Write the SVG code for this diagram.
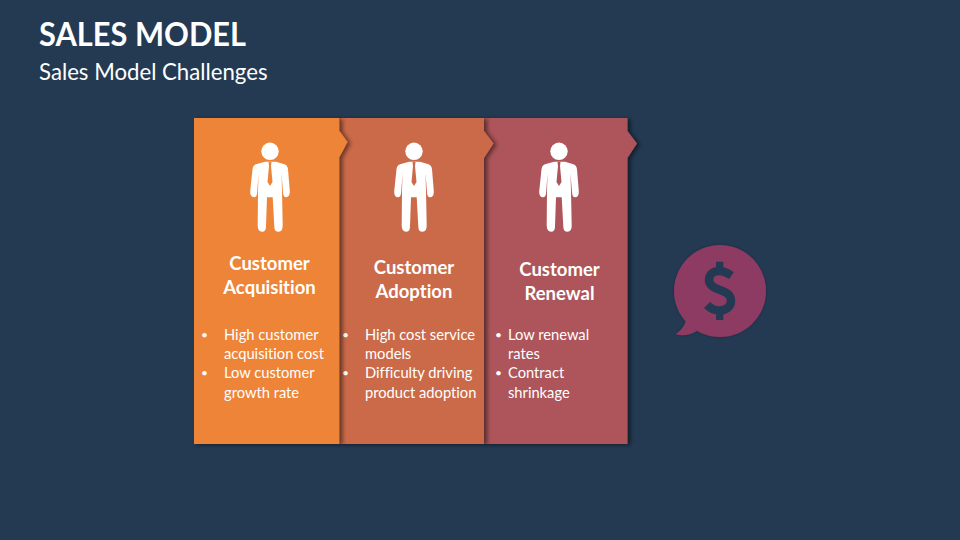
<svg xmlns="http://www.w3.org/2000/svg" width="960" height="540" viewBox="0 0 960 540">
<style>
text{font-family:"Lato","Carlito","Open Sans",sans-serif;fill:#fff;font-variant-ligatures:none}
.t{font-size:33px;font-weight:700}
.s{font-size:22.200px}
.h{font-size:18.500px;font-weight:700;text-anchor:middle}
.b{font-size:14.700px}
.d{font-size:12px}
</style>
<defs>
<filter id="sh" x="-20%" y="-10%" width="140%" height="120%"><feDropShadow dx="3" dy="1" stdDeviation="2" flood-color="#000" flood-opacity="0.5"/></filter>
<filter id="sh2" x="-20%" y="-20%" width="140%" height="140%"><feDropShadow dx="0" dy="0" stdDeviation="1.500" flood-color="#000" flood-opacity="0.3"/></filter>
<g id="person">
<circle cx="0" cy="0" r="8.700" fill="#fff"/>
<path fill="#fff" d="M-5 10.500L-14 13Q-17 14-17.500 18L-19.800 40Q-20 46-16 46Q-13 46-12.800 41L-11.500 22L-12 40L-12.300 74Q-12.300 80.500-8 80.500Q-4 80.500-4 75L-3 46H2.700L4.300 75Q4.300 80.500 8.500 80.500Q12.800 80.500 12.700 74L12 40L11.500 22L13 41Q13.200 46 16 46Q20 46 19.800 40L18 18Q17.500 14 14.500 13L6 10.500Z"/>
</g>
</defs>
<rect width="960" height="540" fill="#243a53"/>
<g id="title">
<text class="t" x="39" y="46" textLength="207" lengthAdjust="spacingAndGlyphs">SALES MODEL</text>
<text class="s" x="39" y="80">Sales Model Challenges</text>
</g>
<g id="panel-3">
<path filter="url(#sh)" fill="#ad545a" d="M484 118H627.500V131L637 143.500L627.500 158V444H484Z"/>
<use href="#person" x="559" y="151.300"/>
<path fill="#ad545a" d="M557.500 162H560.500L560 166L561.500 182L559 186L556.500 182L558 166Z"/>
<text class="h" x="559.500" y="275.500">Customer</text>
<text class="h" x="559.500" y="299.500">Renewal</text>
<text class="d" x="495" y="339">•</text><text class="b" x="508" y="340">Low renewal</text>
<text class="b" x="508" y="359">rates</text>
<text class="d" x="495" y="377">•</text><text class="b" x="508" y="378">Contract</text>
<text class="b" x="508" y="398">shrinkage</text>
</g>
<g id="panel-2">
<path filter="url(#sh)" fill="#cb6a48" d="M340 118H484V131L493.500 143.500L484 158V444H340Z"/>
<use href="#person" x="414" y="151.300"/>
<path fill="#cb6a48" d="M412.500 162H415.500L415 166L416.500 182L414 186L411.500 182L413 166Z"/>
<text class="h" x="414" y="273.500">Customer</text>
<text class="h" x="414" y="297.500">Adoption</text>
<text class="d" x="342" y="339">•</text><text class="b" x="365" y="340">High cost service</text>
<text class="b" x="365" y="359">models</text>
<text class="d" x="342" y="377">•</text><text class="b" x="365" y="378">Difficulty driving</text>
<text class="b" x="365" y="398">product adoption</text>
</g>
<g id="panel-1">
<path filter="url(#sh)" fill="#ee8439" d="M194 118H339.500V131L347.500 142L339.500 157V444H194Z"/>
<use href="#person" x="270" y="151.300"/>
<path fill="#ee8439" d="M268.500 162H271.500L271 166L272.500 182L270 186L267.500 182L269 166Z"/>
<text class="h" x="269.500" y="269.500">Customer</text>
<text class="h" x="269.500" y="293.500">Acquisition</text>
<text class="d" x="201" y="339">•</text><text class="b" x="224" y="340">High customer</text>
<text class="b" x="224" y="359">acquisition cost</text>
<text class="d" x="201" y="377">•</text><text class="b" x="224" y="378">Low customer</text>
<text class="b" x="224" y="398">growth rate</text>
</g>
<g id="money-bubble">
<g filter="url(#sh2)" fill="#8e3a63">
<circle cx="720" cy="291" r="46"/>
<path d="M686 321C684 327 680 331 675.700 334.300C683 336.500 690 335 697 331Z"/>
</g>
<path fill="none" stroke="#243a53" stroke-width="8.500" d="M731.500 275.500C727 272.500 723 271 719 271C712.500 271 709 275 709 280C709 285.500 714 288 720 290C727 292.500 731 295 731 301C731 306.500 726 310.500 719 310.500C714.500 310.500 710.500 308.500 707 305"/>
<path fill="#243a53" d="M716 261.700H723.300V271H716ZM716 310H723.300V320H716Z"/>
</g>
</svg>
